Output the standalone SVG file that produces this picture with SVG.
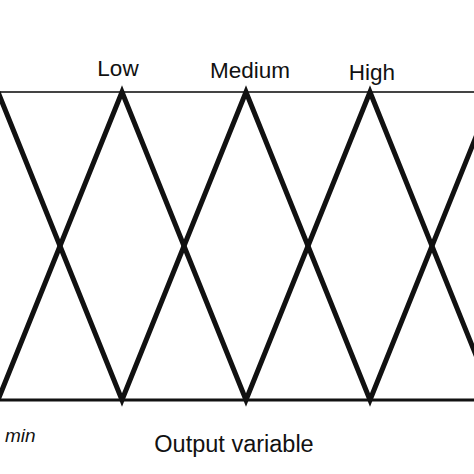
<svg xmlns="http://www.w3.org/2000/svg" width="474" height="474" viewBox="0 0 474 474">
<style>
.t{font-family:"Liberation Sans",Arial,sans-serif;font-size:22.5px;fill:#111;text-anchor:middle}
.m{stroke:#111;stroke-width:5;fill:none;stroke-linejoin:miter}
</style>
<rect width="474" height="474" fill="#fff"/>
<g id="axes">
<line x1="0" y1="92" x2="474" y2="92" stroke="#444" stroke-width="2"/>
<line x1="0" y1="400" x2="474" y2="400" stroke="#111" stroke-width="3"/>
</g>
<g id="connectors">
<polyline class="m" points="-2,92 122,400 246,92 370,400 494,92"/>
<polyline class="m" points="-2,400 122,92 246,400 370,92 494,400"/>
</g>
<g id="labels">
<text class="t" x="118" y="76">Low</text>
<text class="t" x="250" y="78">Medium</text>
<text class="t" x="372" y="80">High</text>
<text class="t" x="234" y="452" style="font-size:23.5px">Output variable</text>
<text x="5" y="442" style="font-family:'Liberation Sans',Arial,sans-serif;font-size:19px;font-style:italic;fill:#111">min</text>
</g>
</svg>
